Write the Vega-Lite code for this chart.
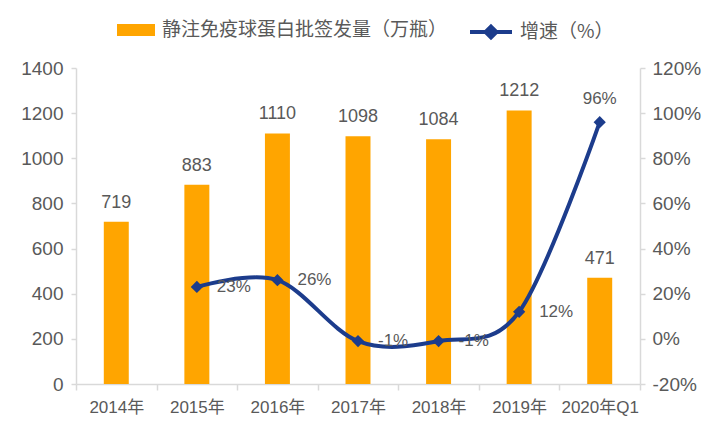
{
  "$schema": "https://vega.github.io/schema/vega-lite/v6.json",
  "width": 564,
  "height": 316,
  "autosize": {"type": "none"},
  "padding": {"left": 76, "top": 68, "right": 82, "bottom": 50},
  "background": "white",
  "config": {
    "view": {"stroke": null},
    "font": "Liberation Sans, Noto Sans CJK SC, sans-serif",
    "locale": {"number": {"decimal": ".", "thousands": ",", "grouping": [3], "currency": ["", ""], "minus": "-"}},
    "axis": {"grid": false, "domainColor": "#D9D9D9", "domainWidth": 1.5, "tickColor": "#D9D9D9", "tickWidth": 1.5, "tickSize": 6, "labelColor": "#595959", "title": null, "labelFont": "Liberation Sans, Noto Sans CJK SC, sans-serif"},
    "legend": {"padding": 0, "labelColor": "#595959", "labelFontSize": 19, "labelLimit": 400, "title": null, "labelFont": "Noto Sans CJK SC, sans-serif"}
  },
  "data": {"values": [
    {"year": "2014年", "count": 719, "rate": null},
    {"year": "2015年", "count": 883, "rate": 0.23},
    {"year": "2016年", "count": 1110, "rate": 0.26},
    {"year": "2017年", "count": 1098, "rate": -0.01},
    {"year": "2018年", "count": 1084, "rate": -0.01},
    {"year": "2019年", "count": 1212, "rate": 0.12},
    {"year": "2020年Q1", "count": 471, "rate": 0.96}
  ]},
  "encoding": {
    "x": {"field": "year", "type": "nominal", "sort": null,
      "scale": {"paddingInner": 0, "paddingOuter": 0},
      "axis": {"labelAngle": 0, "labelFontSize": 17, "labelPadding": 9, "tickBand": "extent"}}
  },
  "layer": [
    {
      "encoding": {
        "y": {"field": "count", "type": "quantitative",
          "scale": {"domain": [0, 1400], "nice": false},
          "axis": {"orient": "left", "format": "d", "values": [0, 200, 400, 600, 800, 1000, 1200, 1400], "labelFontSize": 19, "labelPadding": 8, "tickSize": 5}}
      },
      "layer": [
        {
          "mark": {"type": "bar", "width": {"band": 0.31}},
          "encoding": {
            "color": {"datum": "静注免疫球蛋白批签发量（万瓶）", "type": "nominal",
              "scale": {"range": ["#FFA500"]},
              "legend": {"orient": "none", "legendX": 41, "legendY": -57, "symbolType": "M-1,-0.32H1V0.32H-1Z", "symbolSize": 1444, "labelOffset": 7, "symbolStrokeWidth": 0}}
          }
        },
        {
          "mark": {"type": "text", "baseline": "bottom", "dy": -10, "fontSize": 18, "color": "#595959"},
          "encoding": {"text": {"field": "count", "type": "quantitative", "format": "d"}}
        }
      ]
    },
    {
      "transform": [{"filter": "isValid(datum.rate)"}],
      "encoding": {
        "y": {"field": "rate", "type": "quantitative",
          "scale": {"domain": [-0.2, 1.2], "nice": false},
          "axis": {"orient": "right", "format": ".0%", "values": [-0.2, 0, 0.2, 0.4, 0.6, 0.8, 1.0, 1.2], "labelFontSize": 19, "labelPadding": 7, "tickSize": 5}}
      },
      "layer": [
        {
          "mark": {"type": "line", "interpolate": "cardinal", "strokeWidth": 4},
          "encoding": {
            "stroke": {"datum": "增速（%）", "type": "nominal",
              "scale": {"range": ["#1C3C8C"]},
              "legend": {"orient": "none", "legendX": 392, "legendY": -59, "symbolType": "M-1,0H1M0,-0.26L0.26,0L0,0.26L-0.26,0Z", "symbolSize": 1764, "labelOffset": 6, "symbolStrokeWidth": 4,
                "encode": {"symbols": {"update": {"fill": {"value": "#1C3C8C"}, "stroke": {"value": "#1C3C8C"}, "strokeWidth": {"value": 4}}}}}
            }
          }
        },
        {
          "mark": {"type": "point", "shape": "diamond", "filled": true, "size": 150, "color": "#1C3C8C", "opacity": 1},
          "encoding": {}
        },
        {
          "transform": [{"filter": "datum.year != '2020年Q1'"}],
          "mark": {"type": "text", "align": "left", "baseline": "middle", "dx": 20, "fontSize": 17, "color": "#595959"},
          "encoding": {"text": {"field": "rate", "type": "quantitative", "format": ".0%"}}
        },
        {
          "transform": [{"filter": "datum.year == '2020年Q1'"}],
          "mark": {"type": "text", "align": "center", "baseline": "bottom", "dy": -14, "fontSize": 17, "color": "#595959"},
          "encoding": {"text": {"field": "rate", "type": "quantitative", "format": ".0%"}}
        }
      ]
    }
  ],
  "resolve": {"scale": {"y": "independent"}}
}
